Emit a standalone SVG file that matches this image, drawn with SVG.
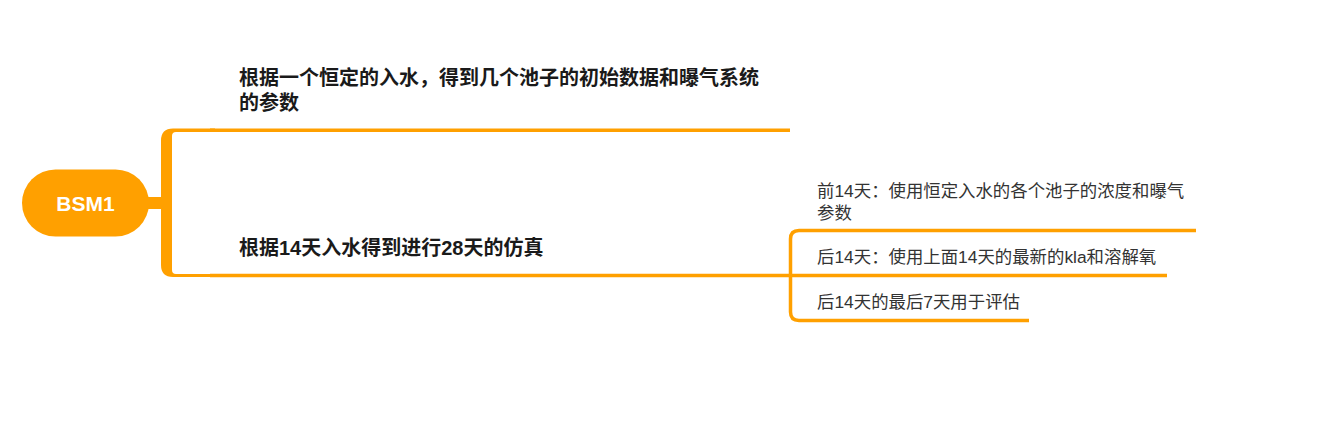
<svg xmlns="http://www.w3.org/2000/svg" width="1333" height="421" viewBox="0 0 1333 421">
<style>
.bg{fill:#ffffff}
.main{font-family:"Liberation Sans","Noto Sans CJK SC",sans-serif;font-size:20px;font-weight:bold;fill:#1a1a1a}
.sub{font-family:"Liberation Sans","Noto Sans CJK SC",sans-serif;font-size:17.4px;fill:#333333}
.root{font-family:"Liberation Sans","Noto Sans",sans-serif;font-size:21px;font-weight:bold;fill:#ffffff}
.ln{fill:none;stroke:#FFA000;stroke-width:3.5}
.fillo{fill:#FFA000}
</style>
<rect class="bg" x="0" y="0" width="1333" height="421"/>
<g id="connectors">
  <rect class="fillo" x="147" y="197" width="16" height="12"/>
  <path class="fillo" d="M215 128.5 H173 Q161 128.5 161 140.5 V265 Q161 277 173 277 H215 V274 H176 Q172 274 172 270 V136 Q172 132 176 132 H215 Z"/>
  <path class="ln" d="M210 130.3 H790"/>
  <path class="ln" d="M210 275.5 H1167"/>
  <path class="ln" d="M1196 230.5 H799 Q790.5 230.5 790.5 239 V312 Q790.5 320.5 799 320.5 H1029"/>
</g>
<g id="node-root">
  <rect class="fillo" x="22" y="169.5" width="127" height="67" rx="33.5"/>
  <text class="root" x="85.5" y="211" text-anchor="middle">BSM1</text>
</g>
<g id="node-1">
  <text class="main" x="239" y="85">根据一个恒定的入水，得到几个池子的初始数据和曝气系统<tspan x="239" y="110">的参数</tspan></text>
</g>
<g id="node-2">
  <text class="main" x="239" y="255">根据14天入水得到进行28天的仿真</text>
</g>
<g id="node-2-1">
  <text class="sub" x="817" y="196.5">前14天：使用恒定入水的各个池子的浓度和曝气<tspan x="817" y="219">参数</tspan></text>
</g>
<g id="node-2-2">
  <text class="sub" x="817" y="263">后14天：使用上面14天的最新的kla和溶解氧</text>
</g>
<g id="node-2-3">
  <text class="sub" x="817" y="308">后14天的最后7天用于评估</text>
</g>
</svg>
